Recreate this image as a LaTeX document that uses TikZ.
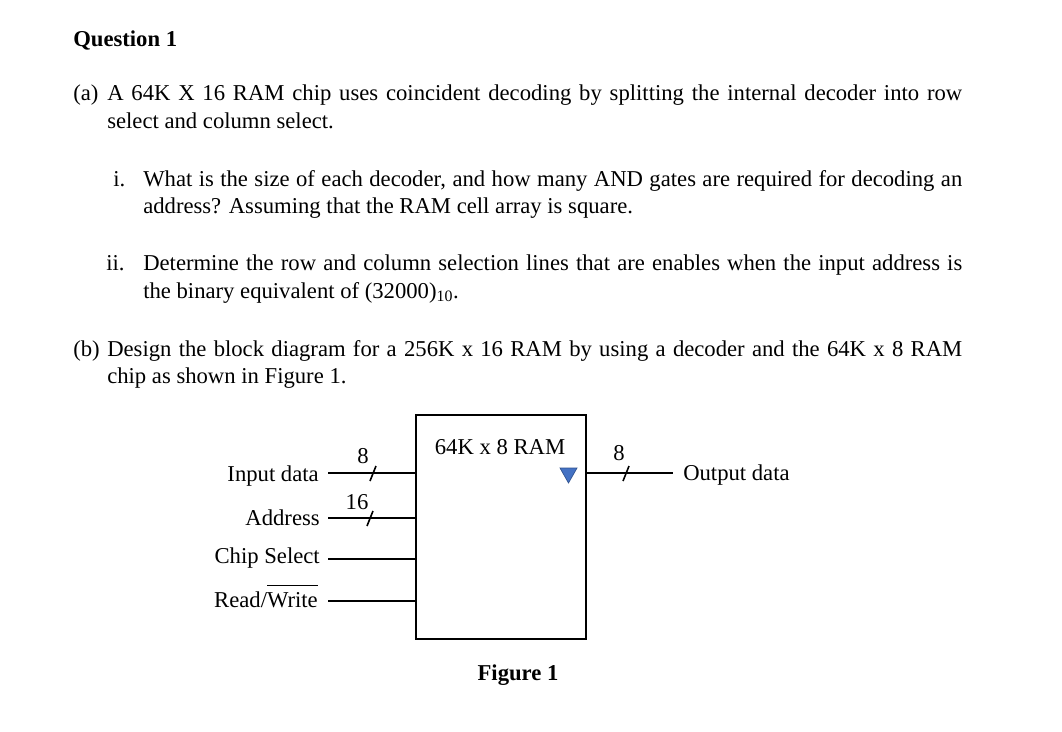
\documentclass[tikz,border=0pt]{standalone}
\usepackage{fontspec}
\setmainfont{Liberation Serif}
\newcommand\myover[1]{\setbox0\hbox{#1}\rlap{\rule[\dimexpr\ht0+4.2pt\relax]{\wd0}{0.75pt}}\box0}
\newcommand\jline[2]{\makebox[#1][s]{#2}}
\definecolor{tri}{HTML}{4472C4}
\definecolor{triedge}{HTML}{2F528F}
\begin{document}
\begin{tikzpicture}[x=0.75pt,y=-0.75pt,
  txt/.style={inner sep=0pt,anchor=base west,font=\fontsize{17}{20}\selectfont},
  lbl/.style={inner sep=0pt,anchor=base east,font=\fontsize{17}{20}\selectfont},
  ctr/.style={inner sep=0pt,anchor=base,font=\fontsize{17}{20}\selectfont},
  wire/.style={line width=1.5pt},
  slash/.style={line width=1.2pt},
  ram/.style={draw,line width=1.5pt,minimum width=127.5pt,minimum height=168pt,inner sep=0pt}]
\useasboundingbox[fill=white] (0,0) rectangle (1062,731);
% text
\node[txt,font=\fontsize{17}{20}\selectfont\bfseries] (q1) at (73,47) {Question 1};
\node[txt] (la) at (73,101) {(a)};
\node[txt] (a1) at (107,101) {\jline{641.25pt}{A 64K X 16 RAM chip uses coincident decoding by splitting the internal decoder into row}};
\node[txt] (a2) at (107,129) {select and column select.};
\node[txt] (li) at (113,186) {i.};
\node[txt] (i1) at (143,186) {\jline{614.25pt}{What is the size of each decoder, and how many AND gates are required for decoding an}};
\node[txt] (i2) at (143,213) {address? Assuming that the RAM cell array is square.};
\node[txt] (lii) at (106,270) {ii.};
\node[txt] (ii1) at (143,270) {\jline{614.25pt}{Determine the row and column selection lines that are enables when the input address is}};
\node[txt] (ii2) at (143,298) {the binary equivalent of (32000)\textsubscript{10}.};
\node[txt] (lb) at (73,356) {(b)};
\node[txt] (b1) at (107,356) {\jline{641.25pt}{Design the block diagram for a 256K x 16 RAM by using a decoder and the 64K x 8 RAM}};
\node[txt] (b2) at (107,383) {chip as shown in Figure 1.};
% figure
\node[ram,anchor=north west] (ram) at (415,414) {};
\node[ctr] (title) at (500,454) {64K x 8 RAM};
\fill[tri,draw=triedge,line width=0.5pt] (560,468) -- (577,468) -- (568.5,483) -- cycle;
\node[lbl] (lin) at (319,481) {Input data};
\node[lbl] (laddr) at (320,525) {Address};
\node[lbl] (lcs) at (320,563) {Chip Select};
\node[lbl] (lrw) at (318,607) {Read/\myover{Write}};
\coordinate (win) at (328,473);
\coordinate (waddr) at (328,518);
\coordinate (wcs) at (328,559);
\coordinate (wrw) at (328,601);
\draw[wire] (win) -- (win -| ram.west);
\draw[wire] (waddr) -- (waddr -| ram.west);
\draw[wire] (wcs) -- (wcs -| ram.west);
\draw[wire] (wrw) -- (wrw -| ram.west);
\coordinate (wout) at (673,473);
\draw[wire] (ram.east |- wout) -- (wout);
\node[txt] (lout) at (683,480) {Output data};
% bus slashes and widths
\draw[slash] (370,481) -- (376,466);
\draw[slash] (367,526) -- (373,511);
\draw[slash] (623,481) -- (629,466);
\node[ctr] (n8a) at (363,463) {8};
\node[ctr] (n16) at (357,509) {16};
\node[ctr] (n8b) at (619,460) {8};
\node[ctr,font=\fontsize{17}{20}\selectfont\bfseries] (fig) at (518,680) {Figure 1};
\end{tikzpicture}
\end{document}
